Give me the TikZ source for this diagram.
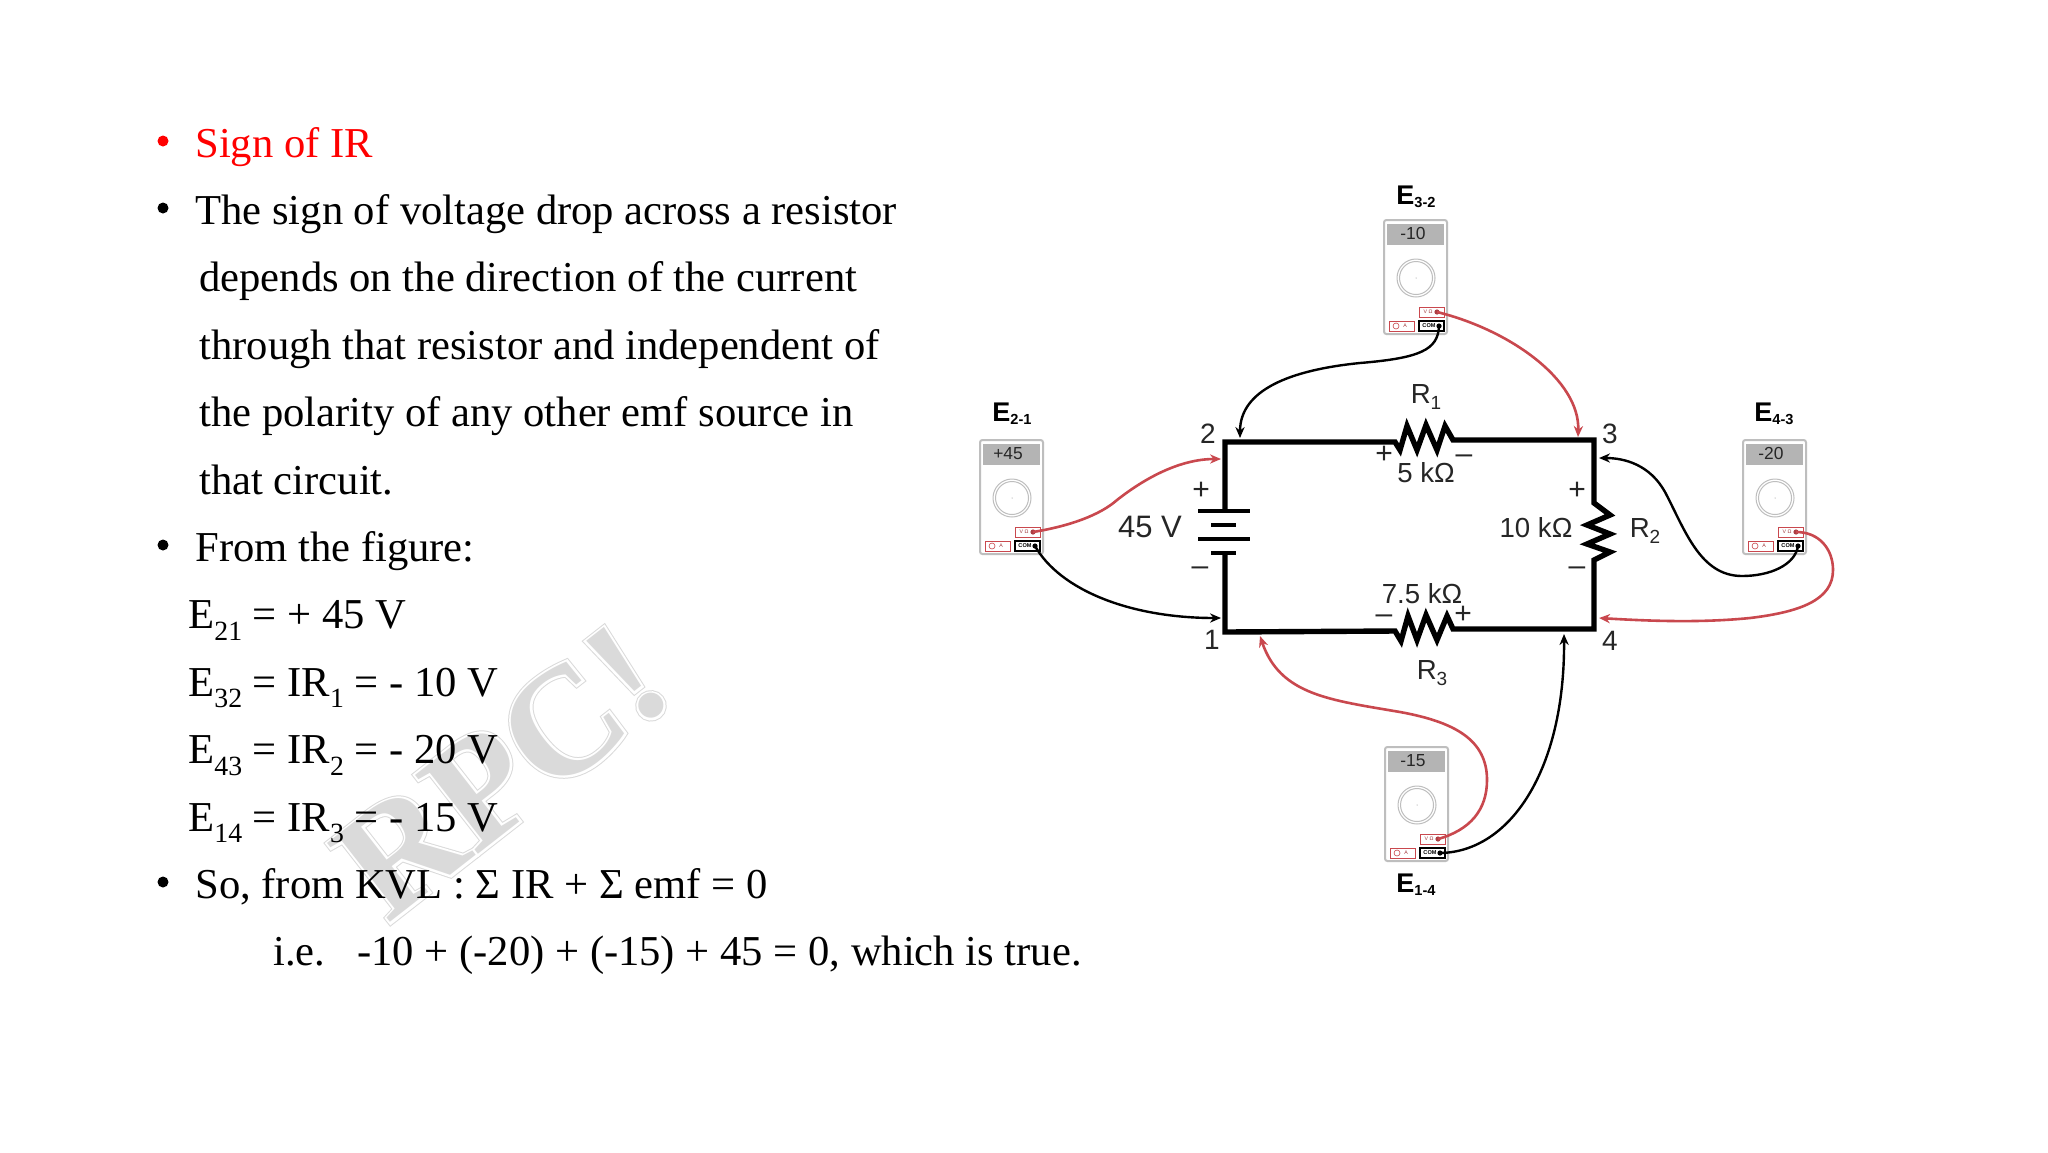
\documentclass[tikz,border=0pt]{standalone}
\usepackage{fontspec}
\setmainfont{Liberation Serif}
\newfontfamily\cirfont{Liberation Sans}
\usetikzlibrary{arrows.meta}
\definecolor{wred}{RGB}{201,72,78}
\definecolor{boxgray}{RGB}{190,190,190}
\definecolor{dispgray}{RGB}{180,180,180}
\definecolor{markgray}{RGB}{218,218,218}
\definecolor{slidered}{RGB}{255,0,0}
\newcommand{\bigsub}[1]{\raisebox{-0.27em}{\fontsize{13.9}{15}\selectfont #1}}
\newcommand{\cirsub}[1]{\raisebox{-0.25em}{\fontsize{9.5}{10}\selectfont #1}}
\newcommand{\labsub}[1]{\raisebox{-0.12em}{\fontsize{7.3}{9}\selectfont #1}}
\newcommand{\wmtext}{RPC!}
\newcommand{\wmstroke}[2]{\rlap{\color{#1}\special{pdf:code 1 Tr #2 w}\wmtext\special{pdf:code 0 Tr}}}
\tikzset{
  txt/.style={anchor=base west,inner sep=0pt,font=\fontsize{21.3}{25}\selectfont},
  ctxt/.style={anchor=base,inner sep=0pt,font=\cirfont\fontsize{13.8}{16}\selectfont,text=black!85},
  numtxt/.style={anchor=base,inner sep=0pt,font=\cirfont\fontsize{14}{16}\selectfont,text=black!85},
  signtxt/.style={anchor=base,inner sep=0pt,font=\cirfont\fontsize{15}{16}\selectfont,text=black!85},
  disptxt/.style={anchor=base,inner sep=0pt,font=\cirfont\fontsize{8.7}{10}\selectfont,text=black!85},
  mlabel/.style={anchor=base west,inner sep=0pt,font=\cirfont\bfseries\fontsize{13.5}{16}\selectfont},
  circ/.style={line width=2.7pt,line cap=butt,line join=miter,miter limit=6},
  plate/.style={line width=2.2pt},
  redw/.style={draw=wred,line width=1.3pt,-{Stealth[length=5.5pt,width=4.6pt]}},
  blkw/.style={draw=black,line width=1.2pt,-{Stealth[length=5.5pt,width=4.6pt]}},
  bullet/.style={anchor=center,inner sep=0pt,circle,minimum size=5.5pt,fill=black},
  meter/.pic={
    \draw[boxgray,line width=1pt,rounded corners=1.2pt,fill=white] (0,0) rectangle (63,114);
    \fill[dispgray] (3,4) rectangle (60,25);
    \draw[boxgray,line width=.5pt] (32,58) circle (19);
    \draw[boxgray,line width=.5pt] (32,58) circle (16.5);
    \fill[gray] (32,58) circle (.5);
    \draw[wred,line width=.5pt] (35,87) rectangle (60,97);
    \draw[wred,line width=.5pt] (5,101) rectangle (30,111);
    \draw[black,line width=.6pt] (35,101) rectangle (60,111);
    \node[inner sep=0pt,text=wred!80!black,font=\cirfont\fontsize{2.6}{3}\selectfont] at (44,92) {V Ω};
    \node[inner sep=0pt,text=wred!80!black,font=\cirfont\fontsize{2.6}{3}\selectfont] at (21,106) {A};
    \draw[wred,line width=.3pt] (12,106) circle (3);
    \node[inner sep=0pt,font=\cirfont\bfseries\fontsize{2.8}{3}\selectfont] at (45,106) {COM};
    \fill[wred!85!black] (53,92) circle (2.6);
    \fill[black] (55,106) circle (2.6);
  }
}
\begin{document}
\begin{tikzpicture}[x=0.5pt,y=-0.5pt]
\useasboundingbox (0,0) rectangle (2048,1152);
\fill[white] (0,0) rectangle (2048,1152);
% watermark
\node[rotate=38,inner sep=0pt,text=markgray,font=\bfseries\fontsize{77}{80}\selectfont] (wm) at (502,772) {\wmstroke{markgray}{3.2}\wmstroke{white}{2.2}\wmtext};
% text
\node[bullet,fill=slidered] (b1) at (163,141) {};
\node[txt,text=slidered] (t1) at (195,157) {Sign of IR};
\node[bullet] (b2) at (163,208) {};
\node[txt] (t2) at (195,224.4) {The sign of voltage drop across a resistor};
\node[txt] (t3) at (199,291.8) {depends on the direction of the current};
\node[txt] (t4) at (199,359.2) {through that resistor and independent of};
\node[txt] (t5) at (199,426.6) {the polarity of any other emf source in};
\node[txt] (t6) at (199,494) {that circuit.};
\node[bullet] (b3) at (163,545) {};
\node[txt] (t7) at (195,561.4) {From the figure:};
\node[txt] (t8) at (188,628.8) {E\bigsub{21} = + 45 V};
\node[txt] (t9) at (188,696.2) {E\bigsub{32} = IR\bigsub{1} = - 10 V};
\node[txt] (t10) at (188,763.6) {E\bigsub{43} = IR\bigsub{2} = - 20 V};
\node[txt] (t11) at (188,831) {E\bigsub{14} = IR\bigsub{3} = - 15 V};
\node[bullet] (b4) at (163,882) {};
\node[txt] (t12) at (195,898.4) {So, from KVL : Σ IR + Σ emf = 0};
\node[txt] (t13) at (273,965.8) {i.e.\ \ \ -10 + (-20) + (-15) + 45 = 0, which is true.};
% circuit
\coordinate (batTop) at (1225,511);
\coordinate (batBot) at (1225,553);
\coordinate (c2) at (1225,442);
\coordinate (c1) at (1225,632);
\coordinate (c3) at (1594,440);
\coordinate (c4) at (1594,629);
\draw[circ] (batTop) -- (c2) -- (1395,442) -- (1400,450) -- (1407,426) -- (1417,450) -- (1426,425) -- (1437,450) -- (1445,426) -- (1453,440) -- (c3) -- (1594,503) -- (1610,515) -- (1587,525) -- (1610,534) -- (1587,544) -- (1610,552) -- (1594,560) -- (c4) -- (1453,629) -- (1447,616) -- (1437,640) -- (1426,615) -- (1417,640) -- (1408,616) -- (1401,641) -- (1395,631) -- (c1) -- (batBot);
\draw[plate] (1198,511) -- (1250,511);
\draw[plate] (1211,525) -- (1236,525);
\draw[plate] (1198,539) -- (1250,539);
\draw[plate] (1211,553) -- (1236,553);
% labels
\node[numtxt] (n2) at (1208,443) {2};
\node[numtxt] (n1) at (1212,649) {1};
\node[numtxt] (n3) at (1610,443) {3};
\node[numtxt] (n4) at (1610,650) {4};
\node[ctxt,font=\cirfont\fontsize{15.5}{16}\selectfont] (v45) at (1150,537) {45 V};
\node[signtxt] (pb) at (1201,499) {+};
\node[signtxt] (mb) at (1200,575) {–};
\node[ctxt] (r1n) at (1426,403) {R\cirsub{1}};
\node[ctxt] (r1v) at (1426,482) {5 kΩ};
\node[signtxt] (r1p) at (1384,463) {+};
\node[signtxt] (r1m) at (1464,463) {–};
\node[ctxt] (r2n) at (1645,537) {R\cirsub{2}};
\node[ctxt] (r2v) at (1536,537) {10 kΩ};
\node[signtxt] (r2p) at (1577,499) {+};
\node[signtxt] (r2m) at (1577,575) {–};
\node[ctxt] (r3n) at (1432,679) {R\cirsub{3}};
\node[ctxt] (r3v) at (1422,603) {7.5 kΩ};
\node[signtxt] (r3m) at (1384,623) {–};
\node[signtxt] (r3p) at (1463,623) {+};
% meters
\pic (m21) at (980,440) {meter};
\pic (m32) at (1384,220) {meter};
\pic (m43) at (1743,440) {meter};
\pic (m14) at (1385,747) {meter};
\node[disptxt] (d21) at (1008,459) {+45};
\node[disptxt] (d32) at (1413,239) {-10};
\node[disptxt] (d43) at (1771,459) {-20};
\node[disptxt] (d14) at (1413,766) {-15};
\node[mlabel] (l21) at (992,421) {E\labsub{2-1}};
\node[mlabel] (l32) at (1396,204) {E\labsub{3-2}};
\node[mlabel] (l43) at (1754,421) {E\labsub{4-3}};
\node[mlabel] (l14) at (1396,892) {E\labsub{1-4}};
% probes
\coordinate (v21) at (1033,532); \coordinate (k21) at (1035,546);
\coordinate (v32) at (1437,312); \coordinate (k32) at (1439,326);
\coordinate (v43) at (1796,532); \coordinate (k43) at (1798,546);
\coordinate (v14) at (1438,839); \coordinate (k14) at (1440,853);
\coordinate (a21r) at (1221,459); \coordinate (a21k) at (1221,618);
\coordinate (a32r) at (1578,437); \coordinate (a32k) at (1240,438);
\coordinate (a43k) at (1599,458); \coordinate (a43r) at (1599,618);
\coordinate (a14r) at (1260,636); \coordinate (a14k) at (1564,634);
\draw[redw] (v21) .. controls (1070,526) and (1100,515) .. (1117,500) .. controls (1145,478) and (1180,459) .. (a21r);
\draw[blkw] (k21) .. controls (1060,590) and (1130,618) .. (a21k);
\draw[redw] (v32) .. controls (1510,330) and (1580,380) .. (a32r);
\draw[blkw] (k32) .. controls (1438,350) and (1420,358) .. (1360,363) .. controls (1290,370) and (1240,390) .. (a32k);
\draw[blkw] (k43) .. controls (1795,565) and (1770,576) .. (1742,576) .. controls (1700,576) and (1685,530) .. (1665,492) .. controls (1650,465) and (1625,458) .. (a43k);
\draw[redw] (v43) .. controls (1820,532) and (1833,550) .. (1833,570) .. controls (1833,600) and (1800,612) .. (1750,618) .. controls (1700,623) and (1650,621) .. (a43r);
\draw[redw] (v14) .. controls (1470,830) and (1487,810) .. (1487,780) .. controls (1487,740) and (1455,722) .. (1400,712) .. controls (1330,700) and (1280,695) .. (a14r);
\draw[blkw] (k14) .. controls (1510,852) and (1565,770) .. (a14k);
\end{tikzpicture}
\end{document}
